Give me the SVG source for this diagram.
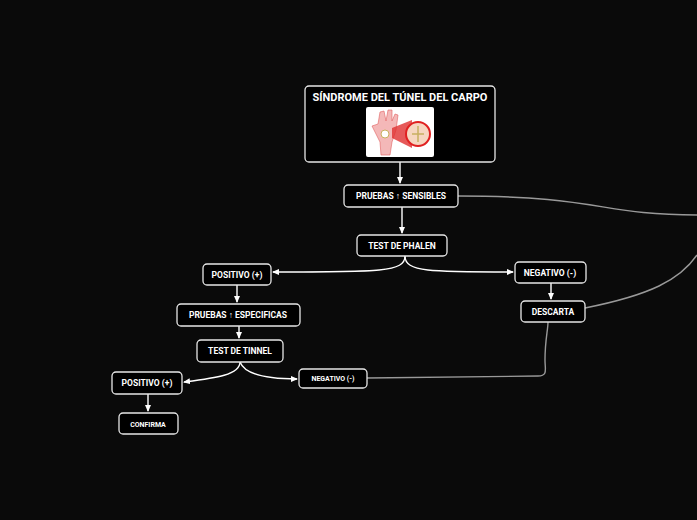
<svg xmlns="http://www.w3.org/2000/svg" width="697" height="520" viewBox="0 0 697 520">
<style>
.n{fill:#000;stroke:#e6e6e6;stroke-width:1.3}
.t{fill:#fff;font-family:Roboto,"Liberation Sans",sans-serif;font-weight:bold;text-anchor:middle;font-size:8.5px}
.s{font-size:7px}
.w{fill:none;stroke:#fff;stroke-width:1.4}
.g{fill:none;stroke:#999;stroke-width:1.4}
</style>
<defs><marker id="a" markerWidth="8" markerHeight="8" refX="6" refY="4" orient="auto" markerUnits="userSpaceOnUse"><path d="M0,1 L7,4 L0,7 Z" fill="#fff"/></marker></defs>
<rect width="697" height="520" fill="#0a0a0a"/>
<g id="connectors">
<path class="w" d="M400,162 V183" marker-end="url(#a)"/>
<path class="w" d="M402,207 V233" marker-end="url(#a)"/>
<path class="w" d="M405,256 C405,272 380,272 273,272" marker-end="url(#a)"/>
<path class="w" d="M405,256 C405,272 430,272 513,272" marker-end="url(#a)"/>
<path class="w" d="M551,283 V299" marker-end="url(#a)"/>
<path class="g" d="M458,196 C600,196 600,215 697,215"/>
<path class="g" d="M585,308 C650,295 680,280 697,255"/>
<path class="w" d="M237,285 V302" marker-end="url(#a)"/>
<path class="w" d="M239,326 V338" marker-end="url(#a)"/>
<path class="w" d="M240,362 C240,375 215,378 184,382" marker-end="url(#a)"/>
<path class="w" d="M240,362 C245,375 270,379 297,379" marker-end="url(#a)"/>
<path class="g" d="M367,378 L538,376 C548,376 545,370 545,360 C545,340 548,330 548,322"/>
<path class="w" d="M148,394 V411" marker-end="url(#a)"/>
</g>
<g id="title"><rect class="n" x="305" y="86" width="190" height="76" rx="4"/>
<text class="t" x="400" y="101" style="font-size:11px">SÍNDROME DEL TÚNEL DEL CARPO</text>
<rect x="366" y="107" width="68" height="50" rx="2" fill="#fff"/>
<path d="M372,126 L378,124 L380,112 L384,111 L386,121 L388,110 L392,110 L392,121 L395,114 L398,115 L396,130 L392,142 L390,155 L381,155 L380,142 Z" fill="#f4b8b8" stroke="#e06060" stroke-width="0.6"/>
<path d="M392,128 L412,120 L412,148 L392,138 Z" fill="#e03030" opacity="0.8"/>
<circle cx="418" cy="134" r="12" fill="#f6d6c0" stroke="#e02020" stroke-width="2"/>
<path d="M412,134 H424 M418,126 V142" stroke="#c8b060" stroke-width="1.5"/>
<circle cx="385" cy="134" r="4" fill="#fff" stroke="#c8b060"/>
</g>
<g id="sensibles"><rect class="n" x="344" y="185" width="114" height="22" rx="4"/><text class="t" x="401" y="199">PRUEBAS ↑ SENSIBLES</text></g>
<g id="phalen"><rect class="n" x="357" y="235" width="90" height="21" rx="4"/><text class="t" x="402" y="249">TEST DE PHALEN</text></g>
<g id="pos1"><rect class="n" x="203" y="264" width="68" height="21" rx="4"/><text class="t" x="237" y="278">POSITIVO (+)</text></g>
<g id="neg1"><rect class="n" x="515" y="262" width="71" height="21" rx="4"/><text class="t" x="550" y="276">NEGATIVO (-)</text></g>
<g id="descarta"><rect class="n" x="521" y="301" width="64" height="21" rx="4"/><text class="t" x="553" y="315">DESCARTA</text></g>
<g id="especificas"><rect class="n" x="177" y="304" width="123" height="22" rx="4"/><text class="t" x="238" y="318">PRUEBAS ↑ ESPECIFICAS</text></g>
<g id="tinnel"><rect class="n" x="197" y="340" width="86" height="22" rx="4"/><text class="t" x="240" y="354">TEST DE TINNEL</text></g>
<g id="pos2"><rect class="n" x="112" y="372" width="70" height="22" rx="4"/><text class="t" x="147" y="386">POSITIVO (+)</text></g>
<g id="neg2"><rect class="n" x="299" y="369" width="68" height="19" rx="4"/><text class="t s" x="333" y="381">NEGATIVO (-)</text></g>
<g id="confirma"><rect class="n" x="119" y="413" width="59" height="21" rx="4"/><text class="t s" x="148" y="427">CONFIRMA</text></g>
</svg>
